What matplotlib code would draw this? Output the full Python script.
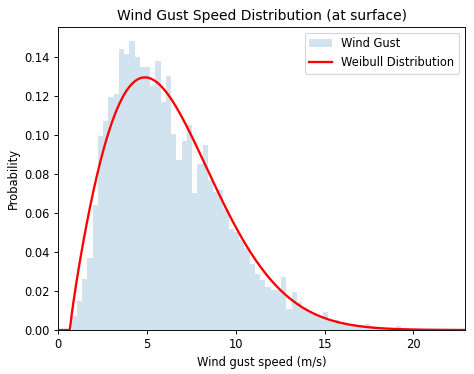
import matplotlib
matplotlib.use('Agg')
from matplotlib import pyplot as plt
import numpy as np

# histogram (density per bin), bins start at bin_start with width bin_width
bin_start = 0.77
bin_width = 0.2945
density = [0.007, 0.015, 0.026, 0.037, 0.064, 0.0995, 0.107, 0.1195, 0.121, 0.144,
           0.1415, 0.148, 0.140, 0.135, 0.135, 0.125, 0.138, 0.117, 0.130, 0.1005,
           0.087, 0.097, 0.105, 0.070, 0.085, 0.095, 0.077, 0.071, 0.072, 0.062,
           0.052, 0.050, 0.046, 0.042, 0.034, 0.0286, 0.0256, 0.022, 0.0205, 0.0205,
           0.0274, 0.011, 0.0197, 0.0145, 0.012, 0.010, 0.008, 0.007, 0.009, 0.005,
           0.005, 0.004, 0.003, 0.003, 0.002, 0.002, 0.003, 0.002, 0.0015, 0.0012,
           0.001, 0.001, 0.0022, 0.0008, 0.0007, 0.0005, 0.0005, 0.0003, 0.0003, 0.0002,
           0.0002, 0.0001, 0.0001, 0.0001, 0.0001]

# fitted weibull parameters
wb_shape = 1.87
wb_scale = 6.35
wb_loc = 0.67

x_max = 22.9

edges = bin_start + bin_width * np.arange(len(density))

dpi = 83
fig = plt.figure(figsize=(474 / dpi, 374 / dpi), dpi=dpi)
ax = fig.add_axes([0.1224, 0.1176, 0.8586, 0.8104])

bars = ax.bar(edges, density, width=bin_width, align='edge', color='tab:blue',
              alpha=0.2, linewidth=0, label='Wind Gust')

xs = np.linspace(0, x_max, 600)
z = np.clip((xs - wb_loc) / wb_scale, 0, None)
pdf = (wb_shape / wb_scale) * z ** (wb_shape - 1) * np.exp(-z ** wb_shape)
pdf[xs < wb_loc] = 0
line, = ax.plot(xs, pdf, color='red', lw=2, label='Weibull Distribution')

ax.set_xlim(0, x_max)
ax.set_title('Wind Gust Speed Distribution (at surface)')
ax.set_xlabel('Wind gust speed (m/s)')
ax.set_ylabel('Probability')
ax.legend(handles=[bars, line], loc='upper right')

fig.savefig('out.png', dpi=dpi)
plt.close(fig)
